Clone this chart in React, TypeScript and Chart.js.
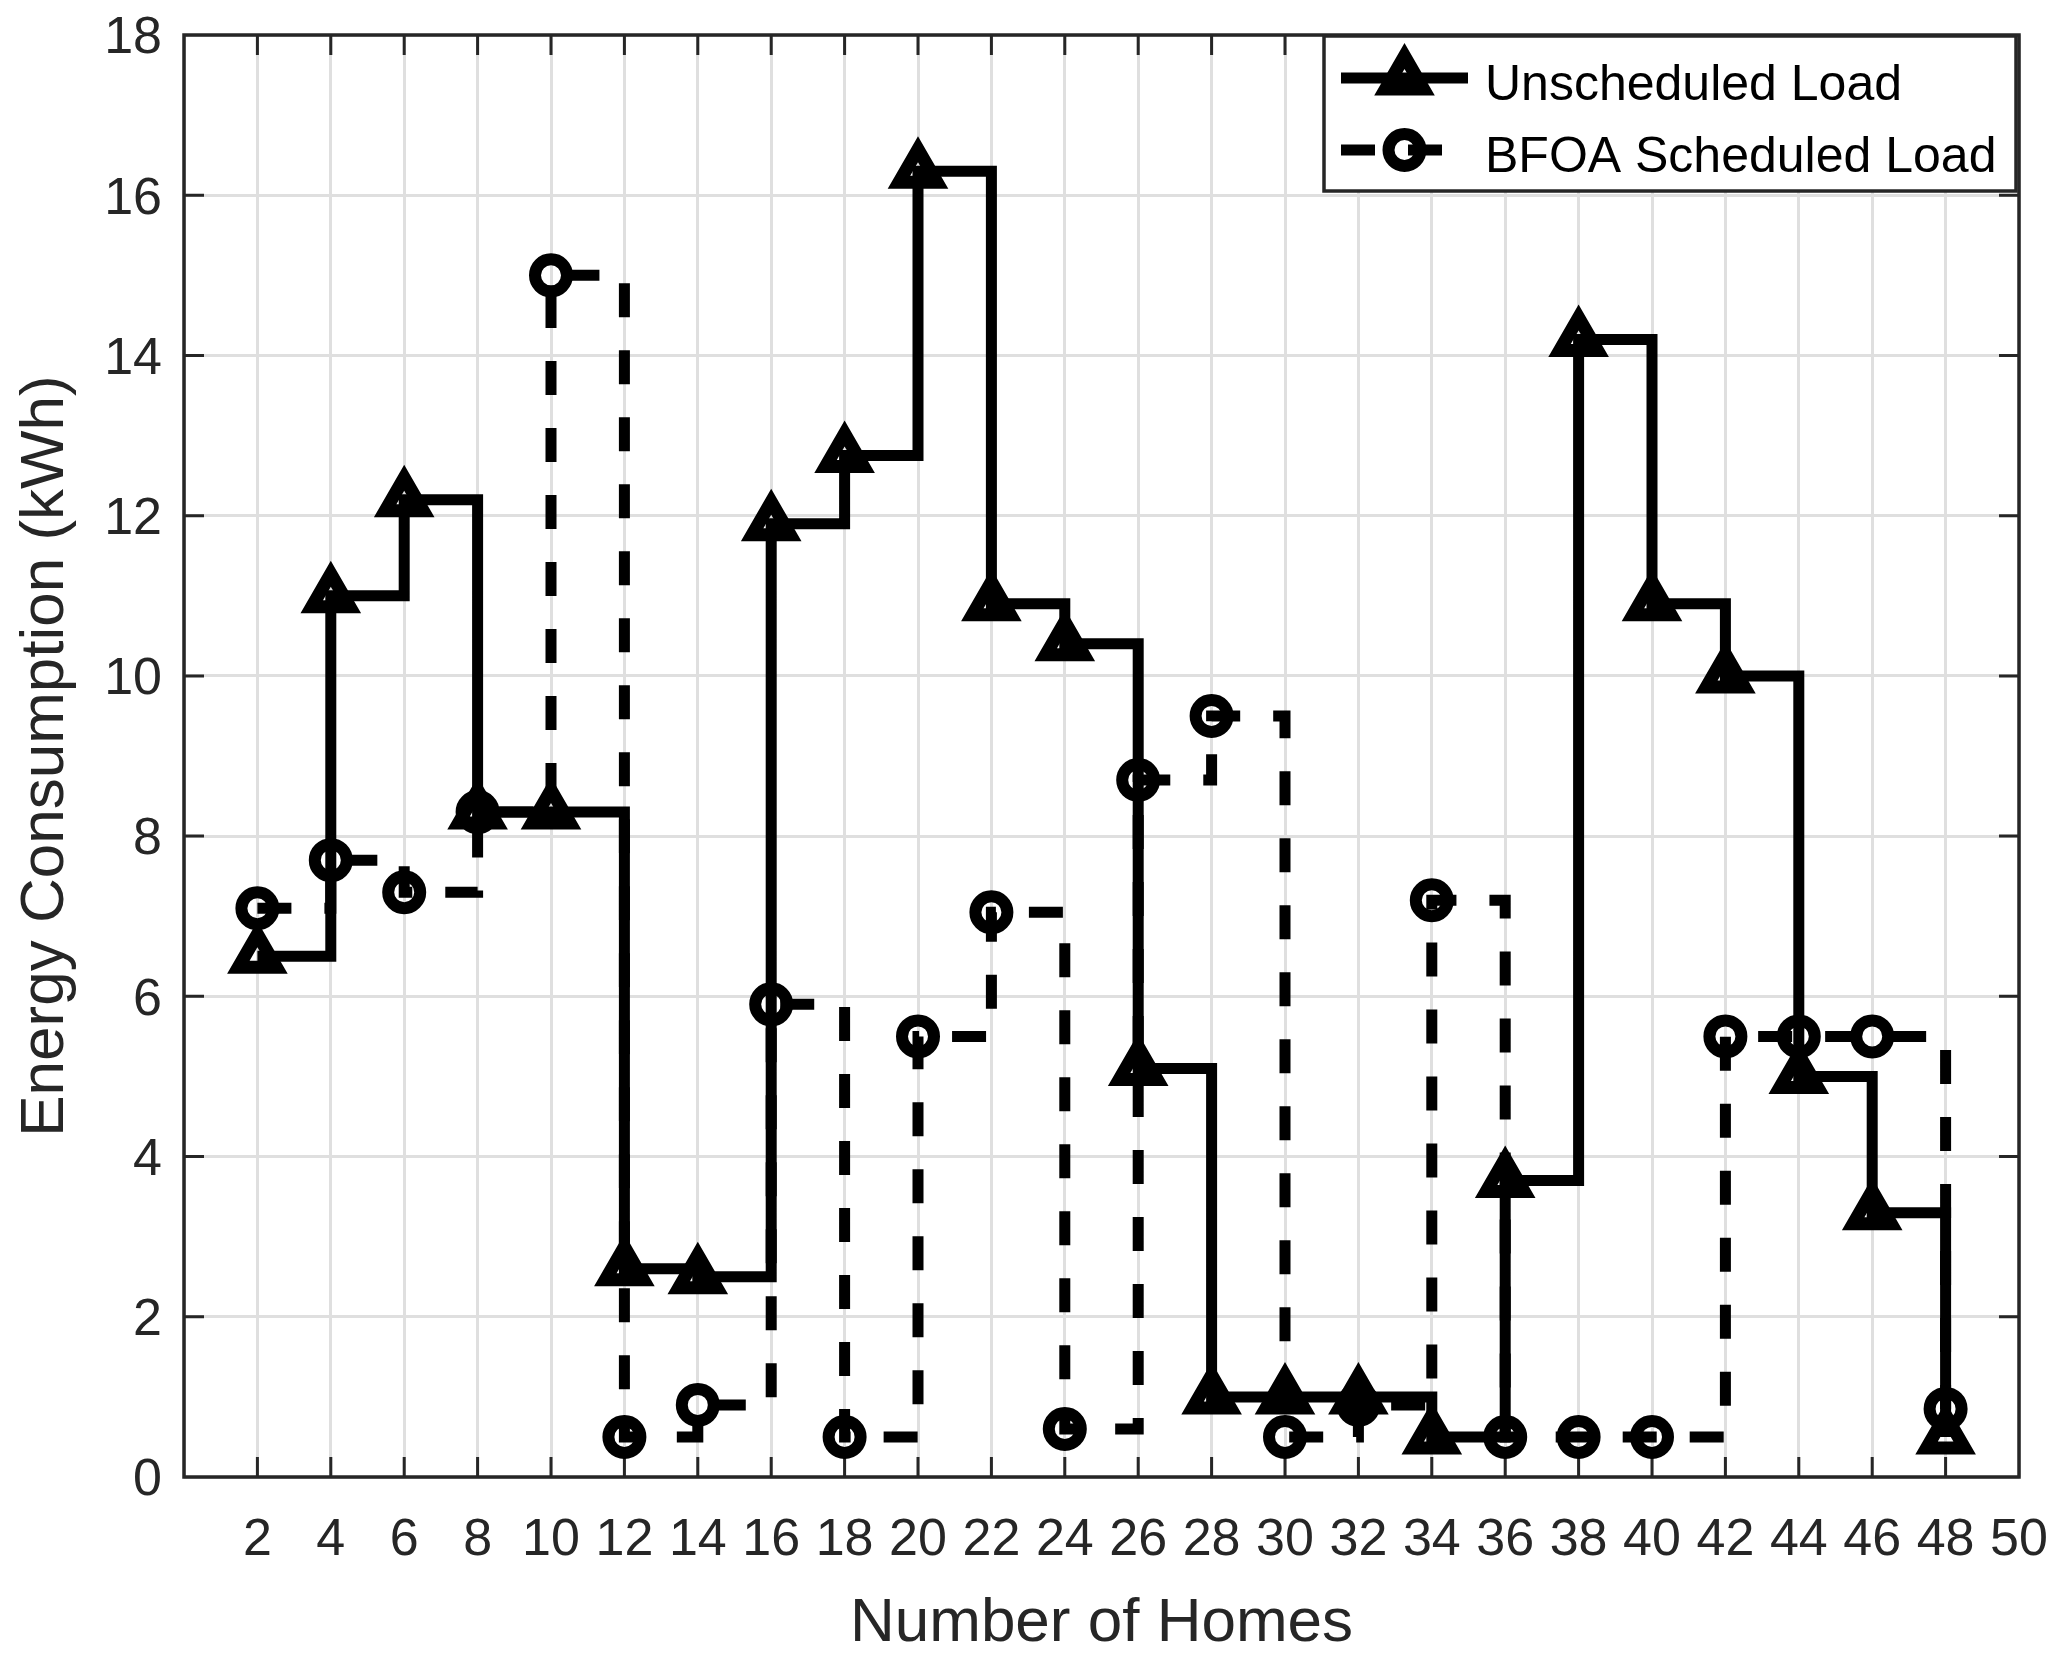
import React, { useEffect, useRef } from 'react';
import { Chart, registerables } from 'chart.js';

Chart.register(...registerables);

// ---- data ----
const homes = [2, 4, 6, 8, 10, 12, 14, 16, 18, 20, 22, 24, 26, 28, 30, 32, 34, 36, 38, 40, 42, 44, 46, 48];
const unscheduledLoad = [6.5, 11.0, 12.2, 8.3, 8.3, 2.6, 2.5, 11.9, 12.75, 16.3, 10.9, 10.4, 5.1, 1.0, 1.0, 1.0, 0.5, 3.7, 14.2, 10.9, 10.0, 5.0, 3.3, 0.5];
const bfoaScheduledLoad = [7.1, 7.7, 7.3, 8.3, 15.0, 0.5, 0.9, 5.9, 0.5, 5.5, 7.05, 0.6, 8.7, 9.5, 0.5, 0.9, 7.2, 0.5, 0.5, 0.5, 5.5, 5.5, 5.5, 0.85];
const seriesNames = ['Unscheduled Load', 'BFOA Scheduled Load'];
const xAxisTitle = 'Number of Homes';
const yAxisTitle = 'Energy Consumption (kWh)';
const xRange = [0, 50];
const yRange = [0, 18];
const tickStep = 2;

// ---- style ----
const W = 2062;
const H = 1661;
const FONT = '"Liberation Sans", Arial, Helvetica, sans-serif';
const AXIS_COLOR = '#262626';
const GRID_COLOR = '#dfdfdf';
const LINE_W = 11;
const DASH = [34, 33];
const TRI_R = 22;
const TRI_BW = 13;
const CIR_R = 16;
const CIR_BW = 12;

function drawTriangle(ctx: CanvasRenderingContext2D, x: number, y: number, r: number) {
  ctx.beginPath();
  ctx.moveTo(x, y - r);
  ctx.lineTo(x + r * Math.sin((2 * Math.PI) / 3), y - r * Math.cos((2 * Math.PI) / 3));
  ctx.lineTo(x + r * Math.sin((4 * Math.PI) / 3), y - r * Math.cos((4 * Math.PI) / 3));
  ctx.closePath();
  ctx.stroke();
}

function zeroPadding(s: any) {
  s.paddingTop = 0;
  s.paddingBottom = 0;
  s.paddingLeft = 0;
  s.paddingRight = 0;
}

const frameAndTicks = {
  id: 'frameAndTicks',
  beforeDatasetsDraw(chart: any) {
    const { ctx, chartArea } = chart;
    const { left, right, top, bottom } = chartArea;
    const xs = chart.scales.x;
    const ys = chart.scales.y;
    const len = 20;
    ctx.save();
    ctx.strokeStyle = AXIS_COLOR;
    ctx.lineWidth = 3;
    ctx.lineCap = 'butt';
    ctx.beginPath();
    xs.ticks.forEach((t: any) => {
      if (t.value <= xRange[0] || t.value >= xRange[1]) return;
      const px = xs.getPixelForValue(t.value);
      ctx.moveTo(px, bottom);
      ctx.lineTo(px, bottom - len);
      ctx.moveTo(px, top);
      ctx.lineTo(px, top + len);
    });
    ys.ticks.forEach((t: any) => {
      if (t.value <= yRange[0] || t.value >= yRange[1]) return;
      const py = ys.getPixelForValue(t.value);
      ctx.moveTo(left, py);
      ctx.lineTo(left + len, py);
      ctx.moveTo(right, py);
      ctx.lineTo(right - len, py);
    });
    ctx.stroke();
    ctx.lineWidth = 3.5;
    ctx.lineJoin = 'miter';
    ctx.strokeRect(left, top, right - left, bottom - top);
    ctx.restore();
  },
};

const matlabLegend = {
  id: 'matlabLegend',
  afterDraw(chart: any) {
    const { ctx, chartArea } = chart;
    const bx = 1324;
    const by = chartArea.top + 1;
    const bw = chartArea.right - 3 - bx;
    const bh = 155;
    ctx.save();
    ctx.fillStyle = '#ffffff';
    ctx.fillRect(bx, by, bw, bh);
    ctx.strokeStyle = AXIS_COLOR;
    ctx.lineWidth = 3.5;
    ctx.strokeRect(bx, by, bw, bh);

    const x0 = 1341;
    const x1 = 1468;
    const xm = (x0 + x1) / 2;
    const rows = [by + 42, by + 114];

    ctx.strokeStyle = '#000';
    ctx.lineJoin = 'miter';
    // row 1: solid line with triangle
    ctx.lineWidth = LINE_W;
    ctx.beginPath();
    ctx.moveTo(x0, rows[0]);
    ctx.lineTo(x1, rows[0]);
    ctx.stroke();
    ctx.lineWidth = TRI_BW;
    drawTriangle(ctx, xm, rows[0], TRI_R);
    // row 2: dashed line with circle
    ctx.lineWidth = LINE_W;
    ctx.setLineDash(DASH);
    ctx.beginPath();
    ctx.moveTo(x0, rows[1]);
    ctx.lineTo(x1, rows[1]);
    ctx.stroke();
    ctx.setLineDash([]);
    ctx.lineWidth = CIR_BW;
    ctx.beginPath();
    ctx.arc(xm, rows[1], CIR_R, 0, Math.PI * 2);
    ctx.stroke();

    ctx.fillStyle = '#000';
    ctx.font = `50px ${FONT}`;
    ctx.textAlign = 'left';
    ctx.textBaseline = 'alphabetic';
    ctx.fillText(seriesNames[0], 1485, rows[0] + 22);
    ctx.fillText(seriesNames[1], 1485, rows[1] + 22);
    ctx.restore();
  },
};

export default function App() {
  const ref = useRef<HTMLCanvasElement | null>(null);

  useEffect(() => {
    document.body.style.margin = '0';
    document.body.style.overflow = 'hidden';
    const canvas = ref.current;
    if (!canvas) return;
    const chart = new Chart(canvas, {
      type: 'line',
      data: {
        datasets: [
          {
            label: seriesNames[0],
            data: homes.map((x, i) => ({ x, y: unscheduledLoad[i] })),
            stepped: true,
            fill: false,
            borderColor: '#000000',
            borderWidth: LINE_W,
            borderJoinStyle: 'miter',
            pointStyle: 'triangle',
            pointRadius: TRI_R,
            pointBorderWidth: TRI_BW,
            pointBorderColor: '#000000',
            pointBackgroundColor: 'rgba(0,0,0,0)',
            order: 1,
          },
          {
            label: seriesNames[1],
            data: homes.map((x, i) => ({ x, y: bfoaScheduledLoad[i] })),
            stepped: true,
            fill: false,
            borderColor: '#000000',
            borderWidth: LINE_W,
            borderDash: DASH,
            borderJoinStyle: 'miter',
            pointStyle: 'circle',
            pointRadius: CIR_R,
            pointBorderWidth: CIR_BW,
            pointBorderColor: '#000000',
            pointBackgroundColor: 'rgba(0,0,0,0)',
            order: 0,
          },
        ],
      },
      options: {
        responsive: false,
        animation: false,
        events: [],
        layout: { padding: { top: 29, right: 43, bottom: 0, left: 0 } },
        plugins: {
          legend: { display: false },
          tooltip: { enabled: false },
        },
        scales: {
          x: {
            type: 'linear',
            min: xRange[0],
            max: xRange[1],
            afterFit: (s: any) => {
              s.height = 184;
              zeroPadding(s);
            },
            ticks: {
              stepSize: tickStep,
              autoSkip: false,
              maxRotation: 0,
              minRotation: 0,
              padding: 32,
              color: AXIS_COLOR,
              font: { family: FONT, size: 52 },
              callback: (v: any) => (v === xRange[0] ? '' : String(v)),
            },
            grid: { color: GRID_COLOR, lineWidth: 3, drawTicks: false },
            border: { display: false },
            title: {
              display: true,
              text: xAxisTitle,
              color: AXIS_COLOR,
              font: { family: FONT, size: 62 },
              padding: { top: 0, bottom: 0 },
            },
          },
          y: {
            type: 'linear',
            min: yRange[0],
            max: yRange[1],
            afterFit: (s: any) => {
              s.width = 184;
              zeroPadding(s);
            },
            ticks: {
              stepSize: tickStep,
              padding: 22,
              labelOffset: 4,
              color: AXIS_COLOR,
              font: { family: FONT, size: 52 },
            },
            grid: { color: GRID_COLOR, lineWidth: 3, drawTicks: false },
            border: { display: false },
            title: {
              display: true,
              text: yAxisTitle,
              color: AXIS_COLOR,
              font: { family: FONT, size: 62 },
              padding: { top: 9, bottom: 0 },
            },
          },
        },
      },
      plugins: [frameAndTicks, matlabLegend],
    } as any);
    return () => chart.destroy();
  }, []);

  return (
    <div style={{ width: W, height: H, background: '#ffffff' }}>
      <canvas ref={ref} width={W} height={H} style={{ display: 'block' }} />
    </div>
  );
}
